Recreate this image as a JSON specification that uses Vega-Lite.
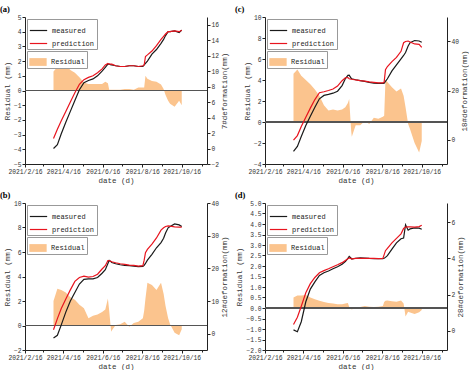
{
  "$schema": "https://vega.github.io/schema/vega-lite/v6.json",
  "padding": {"left": 0, "top": 4, "right": 0, "bottom": 0},
  "background": "white",
  "config": {
    "view": {"stroke": null},
    "font": "Liberation Mono",
    "axis": {"labelFontSize": 6.3, "titleFontSize": 7.5, "titleFontWeight": "normal", "grid": false, "domainColor": "#222", "tickColor": "#222", "labelColor": "#333", "titleColor": "#333", "tickSize": 3, "labelPadding": 1, "titlePadding": 2, "labelFont": "Liberation Mono", "titleFont": "Liberation Mono", "labelOverlap": false, "labelFlush": false, "tickCount": 30},
    "legend": {"labelFont": "Liberation Mono", "labelFontSize": 7, "labelColor": "#222", "padding": 2, "strokeColor": "#999", "fillColor": "white", "rowPadding": 0, "offset": 2, "title": null, "orient": "top-left", "layout": {"direction": "vertical", "margin": 2, "top-left": {"direction": "vertical", "margin": 2}}}
  },
  "datasets": {
    "a": [
      {"date": "2021/04/01", "measured": 0.0, "prediction": 1.3, "residual": 1.3},
      {"date": "2021/04/07", "measured": 0.5, "prediction": 2.5, "residual": 1.6},
      {"date": "2021/04/13", "measured": 1.9, "prediction": 3.6, "residual": 1.9},
      {"date": "2021/04/20", "measured": 3.4, "prediction": 4.8, "residual": 1.7},
      {"date": "2021/04/27", "measured": 4.8, "prediction": 6.0, "residual": 1.4},
      {"date": "2021/05/04", "measured": 6.2, "prediction": 7.2, "residual": 1.2},
      {"date": "2021/05/11", "measured": 7.6, "prediction": 8.3, "residual": 0.9},
      {"date": "2021/05/18", "measured": 8.5, "prediction": 8.9, "residual": 0.55},
      {"date": "2021/05/25", "measured": 8.8, "prediction": 9.2, "residual": 0.45},
      {"date": "2021/06/01", "measured": 9.0, "prediction": 9.4, "residual": 0.45},
      {"date": "2021/06/08", "measured": 9.4, "prediction": 9.8, "residual": 0.45},
      {"date": "2021/06/15", "measured": 10.0, "prediction": 10.3, "residual": 0.45},
      {"date": "2021/06/20", "measured": 10.5, "prediction": 10.8, "residual": 0.6},
      {"date": "2021/06/24", "measured": 10.9, "prediction": 11.0, "residual": 0.5},
      {"date": "2021/06/26", "measured": 10.9, "prediction": 10.9, "residual": 0.05},
      {"date": "2021/06/29", "measured": 10.8, "prediction": 10.9, "residual": 0.05},
      {"date": "2021/06/30", "measured": 10.8, "prediction": 10.9, "residual": 0.05},
      {"date": "2021/07/06", "measured": 10.7, "prediction": 10.7, "residual": 0.05},
      {"date": "2021/07/13", "measured": 10.6, "prediction": 10.6, "residual": 0.05},
      {"date": "2021/07/20", "measured": 10.6, "prediction": 10.6, "residual": 0.1},
      {"date": "2021/07/27", "measured": 10.7, "prediction": 10.7, "residual": 0.1},
      {"date": "2021/08/03", "measured": 10.7, "prediction": 10.7, "residual": 0.05},
      {"date": "2021/08/10", "measured": 10.6, "prediction": 10.6, "residual": 0.2},
      {"date": "2021/08/17", "measured": 10.6, "prediction": 10.7, "residual": 0.2},
      {"date": "2021/08/19", "measured": 10.8, "prediction": 10.8, "residual": 0.2},
      {"date": "2021/08/21", "measured": 11.0, "prediction": 11.9, "residual": 1.0},
      {"date": "2021/08/24", "measured": 11.3, "prediction": 12.1, "residual": 0.8},
      {"date": "2021/08/31", "measured": 12.2, "prediction": 12.6, "residual": 0.65},
      {"date": "2021/09/07", "measured": 12.8, "prediction": 13.3, "residual": 0.6},
      {"date": "2021/09/14", "measured": 13.6, "prediction": 14.1, "residual": 0.4},
      {"date": "2021/09/18", "measured": 14.1, "prediction": 14.5, "residual": 0.1},
      {"date": "2021/09/21", "measured": 14.6, "prediction": 14.8, "residual": -0.3},
      {"date": "2021/09/25", "measured": 15.1, "prediction": 15.1, "residual": -0.7},
      {"date": "2021/09/28", "measured": 15.1, "prediction": 15.1, "residual": -0.9},
      {"date": "2021/10/05", "measured": 15.2, "prediction": 15.2, "residual": -1.1},
      {"date": "2021/10/12", "measured": 15.0, "prediction": 15.1, "residual": -0.7},
      {"date": "2021/10/16", "measured": 15.3, "prediction": 15.3, "residual": -1.0}
    ],
    "c": [
      {"date": "2021/04/01", "measured": -4.8, "prediction": -0.3, "residual": 4.6},
      {"date": "2021/04/07", "measured": -2.8, "prediction": 1.6, "residual": 5.0},
      {"date": "2021/04/13", "measured": 1.2, "prediction": 5.3, "residual": 4.4},
      {"date": "2021/04/20", "measured": 5.7, "prediction": 9.1, "residual": 4.0},
      {"date": "2021/04/27", "measured": 9.5, "prediction": 12.8, "residual": 3.6},
      {"date": "2021/05/04", "measured": 13.2, "prediction": 16.3, "residual": 3.1},
      {"date": "2021/05/11", "measured": 16.6, "prediction": 19.1, "residual": 2.5},
      {"date": "2021/05/18", "measured": 18.0, "prediction": 19.5, "residual": 1.6},
      {"date": "2021/05/25", "measured": 18.4, "prediction": 20.0, "residual": 1.1},
      {"date": "2021/06/01", "measured": 18.9, "prediction": 20.6, "residual": 1.2},
      {"date": "2021/06/08", "measured": 19.7, "prediction": 21.8, "residual": 1.1},
      {"date": "2021/06/15", "measured": 22.0, "prediction": 24.0, "residual": 1.2},
      {"date": "2021/06/20", "measured": 24.8, "prediction": 25.2, "residual": 1.4},
      {"date": "2021/06/24", "measured": 26.2, "prediction": 25.3, "residual": 1.8},
      {"date": "2021/06/26", "measured": 26.3, "prediction": 24.8, "residual": 2.2},
      {"date": "2021/06/29", "measured": 25.0, "prediction": 24.6, "residual": -0.8},
      {"date": "2021/06/30", "measured": 24.8, "prediction": 24.6, "residual": -1.4},
      {"date": "2021/07/06", "measured": 24.4, "prediction": 24.3, "residual": -0.3},
      {"date": "2021/07/13", "measured": 24.0, "prediction": 24.0, "residual": -0.3},
      {"date": "2021/07/20", "measured": 23.7, "prediction": 23.8, "residual": 0.1},
      {"date": "2021/07/27", "measured": 23.3, "prediction": 23.5, "residual": -0.2},
      {"date": "2021/08/03", "measured": 23.0, "prediction": 23.3, "residual": 0.4},
      {"date": "2021/08/10", "measured": 22.9, "prediction": 23.1, "residual": 0.3},
      {"date": "2021/08/17", "measured": 22.9, "prediction": 23.1, "residual": 0.5},
      {"date": "2021/08/19", "measured": 23.0, "prediction": 23.5, "residual": 0.6},
      {"date": "2021/08/21", "measured": 23.7, "prediction": 28.5, "residual": 4.0},
      {"date": "2021/08/24", "measured": 24.8, "prediction": 29.8, "residual": 3.8},
      {"date": "2021/08/31", "measured": 28.0, "prediction": 31.8, "residual": 3.3},
      {"date": "2021/09/07", "measured": 30.5, "prediction": 33.5, "residual": 2.9},
      {"date": "2021/09/14", "measured": 32.9, "prediction": 36.0, "residual": 3.2},
      {"date": "2021/09/18", "measured": 34.3, "prediction": 39.5, "residual": 2.5},
      {"date": "2021/09/21", "measured": 35.5, "prediction": 40.0, "residual": 1.4},
      {"date": "2021/09/25", "measured": 38.2, "prediction": 40.2, "residual": -0.2},
      {"date": "2021/09/28", "measured": 39.5, "prediction": 39.8, "residual": -0.7},
      {"date": "2021/10/05", "measured": 40.4, "prediction": 39.0, "residual": -2.0},
      {"date": "2021/10/12", "measured": 40.2, "prediction": 38.8, "residual": -2.9},
      {"date": "2021/10/16", "measured": 39.7, "prediction": 37.6, "residual": -1.8}
    ],
    "b": [
      {"date": "2021/04/01", "measured": -1.3, "prediction": 1.2, "residual": 2.0},
      {"date": "2021/04/07", "measured": -0.5, "prediction": 4.6, "residual": 3.0},
      {"date": "2021/04/13", "measured": 2.7, "prediction": 7.7, "residual": 2.9},
      {"date": "2021/04/20", "measured": 6.6, "prediction": 10.6, "residual": 2.7},
      {"date": "2021/04/27", "measured": 10.0, "prediction": 13.4, "residual": 2.3},
      {"date": "2021/05/04", "measured": 12.6, "prediction": 16.0, "residual": 2.1},
      {"date": "2021/05/11", "measured": 15.2, "prediction": 17.2, "residual": 1.7},
      {"date": "2021/05/18", "measured": 16.6, "prediction": 17.6, "residual": 1.4},
      {"date": "2021/05/25", "measured": 16.8, "prediction": 17.3, "residual": 0.6},
      {"date": "2021/06/01", "measured": 16.8, "prediction": 17.5, "residual": 0.8},
      {"date": "2021/06/08", "measured": 17.2, "prediction": 18.2, "residual": 0.9},
      {"date": "2021/06/15", "measured": 18.5, "prediction": 19.8, "residual": 1.1},
      {"date": "2021/06/20", "measured": 19.6, "prediction": 20.8, "residual": 1.3},
      {"date": "2021/06/24", "measured": 21.5, "prediction": 22.4, "residual": 2.2},
      {"date": "2021/06/26", "measured": 22.4, "prediction": 22.4, "residual": 1.2},
      {"date": "2021/06/29", "measured": 22.0, "prediction": 22.1, "residual": -0.5},
      {"date": "2021/06/30", "measured": 21.8, "prediction": 22.0, "residual": -0.4},
      {"date": "2021/07/06", "measured": 21.4, "prediction": 21.7, "residual": 0.05},
      {"date": "2021/07/13", "measured": 21.1, "prediction": 21.4, "residual": 0.1},
      {"date": "2021/07/20", "measured": 20.9, "prediction": 21.2, "residual": 0.3},
      {"date": "2021/07/27", "measured": 20.8, "prediction": 21.0, "residual": -0.1},
      {"date": "2021/08/03", "measured": 20.7, "prediction": 20.9, "residual": 0.2},
      {"date": "2021/08/10", "measured": 20.5, "prediction": 20.7, "residual": 0.3},
      {"date": "2021/08/17", "measured": 20.6, "prediction": 20.8, "residual": 0.6},
      {"date": "2021/08/19", "measured": 20.9, "prediction": 22.5, "residual": 1.2},
      {"date": "2021/08/21", "measured": 21.5, "prediction": 24.8, "residual": 2.2},
      {"date": "2021/08/24", "measured": 22.5, "prediction": 25.8, "residual": 3.5},
      {"date": "2021/08/31", "measured": 24.3, "prediction": 27.4, "residual": 3.3},
      {"date": "2021/09/07", "measured": 26.3, "prediction": 29.3, "residual": 2.9},
      {"date": "2021/09/14", "measured": 27.9, "prediction": 31.7, "residual": 3.5},
      {"date": "2021/09/18", "measured": 29.2, "prediction": 32.4, "residual": 2.6},
      {"date": "2021/09/21", "measured": 30.8, "prediction": 32.8, "residual": 1.6},
      {"date": "2021/09/25", "measured": 32.4, "prediction": 33.0, "residual": 0.6},
      {"date": "2021/09/28", "measured": 32.8, "prediction": 32.9, "residual": 0.1},
      {"date": "2021/10/05", "measured": 33.6, "prediction": 32.7, "residual": -0.6},
      {"date": "2021/10/12", "measured": 33.3, "prediction": 32.6, "residual": -0.8},
      {"date": "2021/10/16", "measured": 32.8, "prediction": 32.6, "residual": -0.3}
    ],
    "d": [
      {"date": "2021/04/01", "measured": 0.05, "prediction": 0.35, "residual": 0.5},
      {"date": "2021/04/07", "measured": -0.05, "prediction": 0.75, "residual": 0.6},
      {"date": "2021/04/13", "measured": 0.5, "prediction": 1.35, "residual": 0.6},
      {"date": "2021/04/20", "measured": 1.6, "prediction": 2.1, "residual": 0.62},
      {"date": "2021/04/27", "measured": 2.3, "prediction": 2.6, "residual": 0.5},
      {"date": "2021/05/04", "measured": 2.7, "prediction": 2.94, "residual": 0.42},
      {"date": "2021/05/11", "measured": 3.05, "prediction": 3.2, "residual": 0.35},
      {"date": "2021/05/18", "measured": 3.2, "prediction": 3.32, "residual": 0.28},
      {"date": "2021/05/25", "measured": 3.3, "prediction": 3.42, "residual": 0.24},
      {"date": "2021/06/01", "measured": 3.42, "prediction": 3.53, "residual": 0.21},
      {"date": "2021/06/08", "measured": 3.53, "prediction": 3.64, "residual": 0.18},
      {"date": "2021/06/15", "measured": 3.67, "prediction": 3.76, "residual": 0.18},
      {"date": "2021/06/20", "measured": 3.82, "prediction": 3.88, "residual": 0.22},
      {"date": "2021/06/24", "measured": 4.0, "prediction": 3.98, "residual": 0.24},
      {"date": "2021/06/26", "measured": 4.1, "prediction": 4.02, "residual": 0.05},
      {"date": "2021/06/29", "measured": 4.0, "prediction": 3.98, "residual": -0.05},
      {"date": "2021/06/30", "measured": 3.96, "prediction": 3.97, "residual": -0.07},
      {"date": "2021/07/06", "measured": 4.0, "prediction": 3.99, "residual": 0.02},
      {"date": "2021/07/13", "measured": 4.02, "prediction": 4.0, "residual": 0.05},
      {"date": "2021/07/20", "measured": 4.01, "prediction": 3.99, "residual": 0.09},
      {"date": "2021/07/27", "measured": 3.99, "prediction": 4.0, "residual": 0.06},
      {"date": "2021/08/03", "measured": 3.98, "prediction": 3.99, "residual": 0.05},
      {"date": "2021/08/10", "measured": 3.98, "prediction": 3.98, "residual": 0.06},
      {"date": "2021/08/17", "measured": 3.98, "prediction": 3.99, "residual": 0.1},
      {"date": "2021/08/19", "measured": 4.0, "prediction": 4.2, "residual": 0.28},
      {"date": "2021/08/21", "measured": 4.05, "prediction": 4.42, "residual": 0.35},
      {"date": "2021/08/24", "measured": 4.15, "prediction": 4.55, "residual": 0.36},
      {"date": "2021/08/31", "measured": 4.5, "prediction": 4.85, "residual": 0.32},
      {"date": "2021/09/07", "measured": 4.85, "prediction": 5.1, "residual": 0.3},
      {"date": "2021/09/14", "measured": 5.08, "prediction": 5.35, "residual": 0.36},
      {"date": "2021/09/18", "measured": 5.12, "prediction": 5.65, "residual": 0.22},
      {"date": "2021/09/21", "measured": 5.85, "prediction": 5.72, "residual": -0.4},
      {"date": "2021/09/25", "measured": 5.55, "prediction": 5.73, "residual": -0.18},
      {"date": "2021/09/28", "measured": 5.62, "prediction": 5.73, "residual": -0.22},
      {"date": "2021/10/05", "measured": 5.68, "prediction": 5.72, "residual": -0.28},
      {"date": "2021/10/12", "measured": 5.66, "prediction": 5.75, "residual": -0.2},
      {"date": "2021/10/16", "measured": 5.6, "prediction": 5.82, "residual": -0.1}
    ]
  },
  "columns": 2,
  "spacing": {"row": 6, "column": 6},
  "resolve": {
    "scale": {"x": "independent", "y": "independent", "color": "independent", "fill": "independent"},
    "axis": {"x": "independent", "y": "independent"},
    "legend": {"color": "independent", "fill": "independent"}
  },
  "concat": [
    {
      "title": {"text": "(a)", "anchor": "start", "frame": "group", "offset": -3, "dx": -25, "baseline": "middle", "font": "Liberation Serif", "fontSize": 8.5, "fontWeight": "bold", "color": "#000"},
      "width": 182, "height": 147,
      "data": {"name": "a"},
      "layer": [
        {"transform": [{"fold": ["measured", "prediction"], "as": ["series", "value"]}],
         "mark": {"type": "line", "strokeWidth": 0},
         "encoding": {
           "x": {"field": "date", "type": "temporal", "axis": {"orient": "bottom", "values": [{"year": 2021, "month": 2, "date": 16}, {"year": 2021, "month": 3, "date": 16}, {"year": 2021, "month": 4, "date": 16}, {"year": 2021, "month": 5, "date": 16}, {"year": 2021, "month": 6, "date": 16}, {"year": 2021, "month": 7, "date": 16}, {"year": 2021, "month": 8, "date": 16}, {"year": 2021, "month": 9, "date": 16}, {"year": 2021, "month": 10, "date": 16}, {"year": 2021, "month": 11, "date": 16}], "labels": false, "title": null, "domain": false, "tickSize": 2}},
           "y": {"field": "value", "type": "quantitative", "scale": {"domain": [-2, 17]}, "axis": null},
           "color": {"field": "series", "type": "nominal", "scale": {"domain": ["measured", "prediction"], "range": ["#1a1a1a", "#e8141e"]}, "legend": {"symbolType": "stroke", "symbolSize": 300, "symbolStrokeWidth": 1.2}}
         }},
        {"layer": [
          {"mark": {"type": "area", "opacity": 1},
           "encoding": {
             "x": {"field": "date", "type": "temporal", "scale": {"domain": [{"year": 2021, "month": 2, "date": 16}, {"year": 2021, "month": 11, "date": 24}]}, "axis": {"orient": "bottom", "values": [{"year": 2021, "month": 2, "date": 16}, {"year": 2021, "month": 4, "date": 16}, {"year": 2021, "month": 6, "date": 16}, {"year": 2021, "month": 8, "date": 16}, {"year": 2021, "month": 10, "date": 16}], "format": "%Y/%-m/%-d", "labelAngle": 0, "title": "date (d)"}},
             "y": {"field": "residual", "type": "quantitative", "scale": {"domain": [-5, 5]}, "axis": {"values": [-5, -4, -3, -2, -1, 0, 1, 2, 3, 4, 5], "format": "d", "title": "Residual (mm)"}},
             "y2": {"datum": 0},
             "fill": {"datum": "Residual", "scale": {"domain": ["Residual"], "range": ["#fbc48e"]}, "legend": {"symbolType": "M-1,-0.45H1V0.45H-1Z", "symbolSize": 300, "symbolStrokeWidth": 0}}
           }},
          {"mark": {"type": "rule", "color": "#555", "strokeWidth": 1}, "encoding": {"y": {"datum": 0}}}
        ]},
        {"transform": [{"fold": ["measured", "prediction"], "as": ["series", "value"]}],
         "mark": {"type": "line", "strokeWidth": 1.2},
         "encoding": {
           "x": {"field": "date", "type": "temporal", "axis": null},
           "y": {"field": "value", "type": "quantitative", "scale": {"domain": [-2, 17]}, "axis": {"orient": "right", "values": [-2, 0, 2, 4, 6, 8, 10, 12, 14, 16], "format": "d", "titleAngle": -90, "titleBaseline": "top", "title": "7#deformation(mm)"}},
           "color": {"field": "series", "type": "nominal"}
         }}
      ],
      "resolve": {"scale": {"y": "independent"}, "axis": {"x": "independent"}}
    },
    {
      "title": {"text": "(c)", "anchor": "start", "frame": "group", "offset": -3, "dx": -30, "baseline": "middle", "font": "Liberation Serif", "fontSize": 8.5, "fontWeight": "bold", "color": "#000"},
      "width": 182, "height": 147,
      "data": {"name": "c"},
      "layer": [
        {"transform": [{"fold": ["measured", "prediction"], "as": ["series", "value"]}],
         "mark": {"type": "line", "strokeWidth": 0},
         "encoding": {
           "x": {"field": "date", "type": "temporal", "axis": {"orient": "bottom", "values": [{"year": 2021, "month": 2, "date": 16}, {"year": 2021, "month": 3, "date": 16}, {"year": 2021, "month": 4, "date": 16}, {"year": 2021, "month": 5, "date": 16}, {"year": 2021, "month": 6, "date": 16}, {"year": 2021, "month": 7, "date": 16}, {"year": 2021, "month": 8, "date": 16}, {"year": 2021, "month": 9, "date": 16}, {"year": 2021, "month": 10, "date": 16}, {"year": 2021, "month": 11, "date": 16}], "labels": false, "title": null, "domain": false, "tickSize": 2}},
           "y": {"field": "value", "type": "quantitative", "scale": {"domain": [-10, 50]}, "axis": null},
           "color": {"field": "series", "type": "nominal", "scale": {"domain": ["measured", "prediction"], "range": ["#1a1a1a", "#e8141e"]}, "legend": {"symbolType": "stroke", "symbolSize": 300, "symbolStrokeWidth": 1.2}}
         }},
        {"layer": [
          {"mark": {"type": "area", "opacity": 1},
           "encoding": {
             "x": {"field": "date", "type": "temporal", "scale": {"domain": [{"year": 2021, "month": 2, "date": 16}, {"year": 2021, "month": 11, "date": 24}]}, "axis": {"orient": "bottom", "values": [{"year": 2021, "month": 2, "date": 16}, {"year": 2021, "month": 4, "date": 16}, {"year": 2021, "month": 6, "date": 16}, {"year": 2021, "month": 8, "date": 16}, {"year": 2021, "month": 10, "date": 16}], "format": "%Y/%-m/%-d", "labelAngle": 0, "title": "date (d)"}},
             "y": {"field": "residual", "type": "quantitative", "scale": {"domain": [-4, 10]}, "axis": {"values": [-4, -2, 0, 2, 4, 6, 8, 10], "format": "d", "title": "Residual (mm)"}},
             "y2": {"datum": 0},
             "fill": {"datum": "Residual", "scale": {"domain": ["Residual"], "range": ["#fbc48e"]}, "legend": {"symbolType": "M-1,-0.45H1V0.45H-1Z", "symbolSize": 300, "symbolStrokeWidth": 0}}
           }},
          {"mark": {"type": "rule", "color": "#555", "strokeWidth": 1}, "encoding": {"y": {"datum": 0}}}
        ]},
        {"transform": [{"fold": ["measured", "prediction"], "as": ["series", "value"]}],
         "mark": {"type": "line", "strokeWidth": 1.2},
         "encoding": {
           "x": {"field": "date", "type": "temporal", "axis": null},
           "y": {"field": "value", "type": "quantitative", "scale": {"domain": [-10, 50]}, "axis": {"orient": "right", "values": [0, 20, 40], "format": "d", "titleAngle": -90, "titleBaseline": "top", "title": "18#deformation(mm)"}},
           "color": {"field": "series", "type": "nominal"}
         }}
      ],
      "resolve": {"scale": {"y": "independent"}, "axis": {"x": "independent"}}
    },
    {
      "title": {"text": "(b)", "anchor": "start", "frame": "group", "offset": -3, "dx": -25, "baseline": "middle", "font": "Liberation Serif", "fontSize": 8.5, "fontWeight": "bold", "color": "#000"},
      "width": 182, "height": 147,
      "data": {"name": "b"},
      "layer": [
        {"transform": [{"fold": ["measured", "prediction"], "as": ["series", "value"]}],
         "mark": {"type": "line", "strokeWidth": 0},
         "encoding": {
           "x": {"field": "date", "type": "temporal", "axis": {"orient": "bottom", "values": [{"year": 2021, "month": 2, "date": 16}, {"year": 2021, "month": 3, "date": 16}, {"year": 2021, "month": 4, "date": 16}, {"year": 2021, "month": 5, "date": 16}, {"year": 2021, "month": 6, "date": 16}, {"year": 2021, "month": 7, "date": 16}, {"year": 2021, "month": 8, "date": 16}, {"year": 2021, "month": 9, "date": 16}, {"year": 2021, "month": 10, "date": 16}, {"year": 2021, "month": 11, "date": 16}], "labels": false, "title": null, "domain": false, "tickSize": 2}},
           "y": {"field": "value", "type": "quantitative", "scale": {"domain": [-5, 40]}, "axis": null},
           "color": {"field": "series", "type": "nominal", "scale": {"domain": ["measured", "prediction"], "range": ["#1a1a1a", "#e8141e"]}, "legend": {"symbolType": "stroke", "symbolSize": 300, "symbolStrokeWidth": 1.2}}
         }},
        {"layer": [
          {"mark": {"type": "area", "opacity": 1},
           "encoding": {
             "x": {"field": "date", "type": "temporal", "scale": {"domain": [{"year": 2021, "month": 2, "date": 16}, {"year": 2021, "month": 11, "date": 24}]}, "axis": {"orient": "bottom", "values": [{"year": 2021, "month": 2, "date": 16}, {"year": 2021, "month": 4, "date": 16}, {"year": 2021, "month": 6, "date": 16}, {"year": 2021, "month": 8, "date": 16}, {"year": 2021, "month": 10, "date": 16}], "format": "%Y/%-m/%-d", "labelAngle": 0, "title": "date (d)"}},
             "y": {"field": "residual", "type": "quantitative", "scale": {"domain": [-2, 10]}, "axis": {"values": [-2, 0, 2, 4, 6, 8, 10], "format": "d", "title": "Residual (mm)"}},
             "y2": {"datum": 0},
             "fill": {"datum": "Residual", "scale": {"domain": ["Residual"], "range": ["#fbc48e"]}, "legend": {"symbolType": "M-1,-0.45H1V0.45H-1Z", "symbolSize": 300, "symbolStrokeWidth": 0}}
           }},
          {"mark": {"type": "rule", "color": "#555", "strokeWidth": 1}, "encoding": {"y": {"datum": 0}}}
        ]},
        {"transform": [{"fold": ["measured", "prediction"], "as": ["series", "value"]}],
         "mark": {"type": "line", "strokeWidth": 1.2},
         "encoding": {
           "x": {"field": "date", "type": "temporal", "axis": null},
           "y": {"field": "value", "type": "quantitative", "scale": {"domain": [-5, 40]}, "axis": {"orient": "right", "values": [0, 10, 20, 30, 40], "format": "d", "titleAngle": -90, "titleBaseline": "top", "title": "12#deformation(mm)"}},
           "color": {"field": "series", "type": "nominal"}
         }}
      ],
      "resolve": {"scale": {"y": "independent"}, "axis": {"x": "independent"}}
    },
    {
      "title": {"text": "(d)", "anchor": "start", "frame": "group", "offset": -3, "dx": -30, "baseline": "middle", "font": "Liberation Serif", "fontSize": 8.5, "fontWeight": "bold", "color": "#000"},
      "width": 182, "height": 147,
      "data": {"name": "d"},
      "layer": [
        {"transform": [{"fold": ["measured", "prediction"], "as": ["series", "value"]}],
         "mark": {"type": "line", "strokeWidth": 0},
         "encoding": {
           "x": {"field": "date", "type": "temporal", "axis": {"orient": "bottom", "values": [{"year": 2021, "month": 2, "date": 16}, {"year": 2021, "month": 3, "date": 16}, {"year": 2021, "month": 4, "date": 16}, {"year": 2021, "month": 5, "date": 16}, {"year": 2021, "month": 6, "date": 16}, {"year": 2021, "month": 7, "date": 16}, {"year": 2021, "month": 8, "date": 16}, {"year": 2021, "month": 9, "date": 16}, {"year": 2021, "month": 10, "date": 16}, {"year": 2021, "month": 11, "date": 16}], "labels": false, "title": null, "domain": false, "tickSize": 2}},
           "y": {"field": "value", "type": "quantitative", "scale": {"domain": [-1.06, 7.05]}, "axis": null},
           "color": {"field": "series", "type": "nominal", "scale": {"domain": ["measured", "prediction"], "range": ["#1a1a1a", "#e8141e"]}, "legend": {"symbolType": "stroke", "symbolSize": 300, "symbolStrokeWidth": 1.2}}
         }},
        {"layer": [
          {"mark": {"type": "area", "opacity": 1},
           "encoding": {
             "x": {"field": "date", "type": "temporal", "scale": {"domain": [{"year": 2021, "month": 2, "date": 16}, {"year": 2021, "month": 11, "date": 24}]}, "axis": {"orient": "bottom", "values": [{"year": 2021, "month": 2, "date": 16}, {"year": 2021, "month": 4, "date": 16}, {"year": 2021, "month": 6, "date": 16}, {"year": 2021, "month": 8, "date": 16}, {"year": 2021, "month": 10, "date": 16}], "format": "%Y/%-m/%-d", "labelAngle": 0, "title": "date (d)"}},
             "y": {"field": "residual", "type": "quantitative", "scale": {"domain": [-2, 5]}, "axis": {"values": [-2, -1.5, -1, -0.5, 0, 0.5, 1, 1.5, 2, 2.5, 3, 3.5, 4, 4.5, 5], "format": ".1f", "title": "Residual (mm)"}},
             "y2": {"datum": 0},
             "fill": {"datum": "Residual", "scale": {"domain": ["Residual"], "range": ["#fbc48e"]}, "legend": {"symbolType": "M-1,-0.45H1V0.45H-1Z", "symbolSize": 300, "symbolStrokeWidth": 0}}
           }},
          {"mark": {"type": "rule", "color": "#555", "strokeWidth": 1}, "encoding": {"y": {"datum": 0}}}
        ]},
        {"transform": [{"fold": ["measured", "prediction"], "as": ["series", "value"]}],
         "mark": {"type": "line", "strokeWidth": 1.2},
         "encoding": {
           "x": {"field": "date", "type": "temporal", "axis": null},
           "y": {"field": "value", "type": "quantitative", "scale": {"domain": [-1.06, 7.05]}, "axis": {"orient": "right", "values": [0, 2, 4, 6], "format": "d", "titleAngle": -90, "titleBaseline": "top", "title": "28#deformation(mm)"}},
           "color": {"field": "series", "type": "nominal"}
         }}
      ],
      "resolve": {"scale": {"y": "independent"}, "axis": {"x": "independent"}}
    }
  ]
}
